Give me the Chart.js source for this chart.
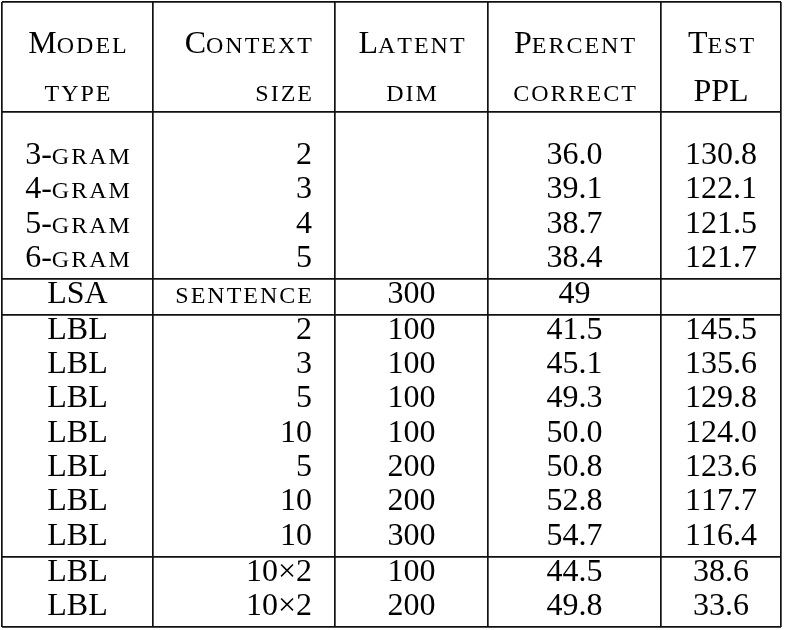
<!DOCTYPE html>
<html>
<head>
<meta charset="utf-8">
<script src="https://cdn.jsdelivr.net/npm/chart.js@4.4.1/dist/chart.umd.min.js"></script>
<style>
html, body { margin: 0; padding: 0; background: #fff; }
#wrap { width: 787px; height: 630px; position: relative; }
</style>
</head>
<body>
<div id="wrap"><canvas id="table"></canvas></div>
<script>
// table content
const headerTop = ['Model', 'Context', 'Latent', 'Percent', 'Test'];
const headerBottom = ['type', 'size', 'dim', 'correct', 'PPL'];
const modelType = ['3-gram', '4-gram', '5-gram', '6-gram', 'LSA',
    'LBL', 'LBL', 'LBL', 'LBL', 'LBL', 'LBL', 'LBL', 'LBL', 'LBL'];
const contextSize = ['2', '3', '4', '5', 'sentence',
    '2', '3', '5', '10', '5', '10', '10', '10×2', '10×2'];
const latentDim = [null, null, null, null, '300',
    '100', '100', '100', '100', '200', '200', '300', '100', '200'];
const percentCorrect = ['36.0', '39.1', '38.7', '38.4', '49',
    '41.5', '45.1', '49.3', '50.0', '50.8', '52.8', '54.7', '44.5', '49.8'];
const testPPL = ['130.8', '122.1', '121.5', '121.7', null,
    '145.5', '135.6', '129.8', '124.0', '123.6', '117.7', '116.4', '38.6', '33.6'];
const groupSizes = [4, 1, 7, 2];

// layout: x in pixel-like units, y in row units
const colWidths = [151, 182, 153, 173, 120];
const colAlign = ['center', 'right', 'center', 'center', 'center'];
const rightPad = 23;
const FONT = '"Liberation Serif", "Times New Roman", serif';
const SIZE = 32, SC_SIZE = 24, TRACK = 2;

const colEdges = [0];
colWidths.forEach(w => colEdges.push(colEdges[colEdges.length - 1] + w));
const anchorX = colWidths.map((w, i) =>
    colAlign[i] === 'right' ? colEdges[i + 1] - rightPad : colEdges[i] + w / 2);

const headerBase = [1.487, 2.886];
const headerRule = 3.2;
const rowBase = [];
const rules = [0, headerRule];
let cursor = headerRule + 0.82;
groupSizes.forEach(n => {
    for (let k = 0; k < n; k++) rowBase.push(cursor + 0.7 + k);
    cursor += n + 0.05;
    rules.push(cursor);
});
const yMax = cursor;

const columns = [modelType, contextSize, latentDim, percentCorrect, testPPL];

const datasets = columns.map((col, i) => {
    const pts = [
        { x: anchorX[i], y: headerBase[0], text: headerTop[i] },
        { x: anchorX[i], y: headerBase[1], text: headerBottom[i] }
    ];
    col.forEach((v, r) => {
        if (v !== null) pts.push({ x: anchorX[i], y: rowBase[r], text: v });
    });
    return { label: headerTop[i], data: pts, pointRadius: 0, pointHoverRadius: 0 };
});

// lowercase letters are drawn as small capitals
function drawCell(ctx, text, x, y, align) {
    const parts = [...text].map(ch => {
        const small = ch !== ch.toUpperCase();
        return { ch: small ? ch.toUpperCase() : ch, small: small };
    });
    let w = 0;
    parts.forEach((p, i) => {
        ctx.font = (p.small ? SC_SIZE : SIZE) + 'px ' + FONT;
        p.w = ctx.measureText(p.ch).width + (p.small && i < parts.length - 1 ? TRACK : 0);
        w += p.w;
    });
    let cx = align === 'right' ? x - w : (align === 'center' ? x - w / 2 : x);
    parts.forEach(p => {
        ctx.font = (p.small ? SC_SIZE : SIZE) + 'px ' + FONT;
        ctx.fillText(p.ch, cx, y);
        cx += p.w;
    });
}

const cellText = {
    id: 'cellText',
    afterDatasetsDraw(chart) {
        const c = chart.ctx;
        c.save();
        c.fillStyle = '#000';
        c.textAlign = 'left';
        c.textBaseline = 'alphabetic';
        chart.data.datasets.forEach((ds, i) => {
            chart.getDatasetMeta(i).data.forEach((pt, j) => {
                drawCell(c, ds.data[j].text, pt.x, pt.y, colAlign[i]);
            });
        });
        c.restore();
    }
};

const ruleGrid = { color: '#111', lineWidth: 1.7, drawTicks: false };

const ctx = document.getElementById('table').getContext('2d');
const table = new Chart(ctx, {
    type: 'scatter',
    data: { datasets: datasets },
    options: {
        responsive: true,
        maintainAspectRatio: false,
        animation: false,
        events: [],
        layout: { padding: { left: 2, top: 2, right: 6, bottom: 3 } },
        plugins: { legend: { display: false }, tooltip: { enabled: false } },
        scales: {
            x: {
                type: 'linear', min: 0, max: colEdges[colEdges.length - 1],
                ticks: { display: false },
                grid: ruleGrid,
                border: { display: false },
                afterBuildTicks: s => { s.ticks = colEdges.map(v => ({ value: v })); }
            },
            y: {
                type: 'linear', reverse: true, min: 0, max: yMax,
                ticks: { display: false },
                grid: ruleGrid,
                border: { display: false },
                afterBuildTicks: s => { s.ticks = rules.map(v => ({ value: v })); }
            }
        }
    },
    plugins: [cellText]
});
</script>
</body>
</html>
